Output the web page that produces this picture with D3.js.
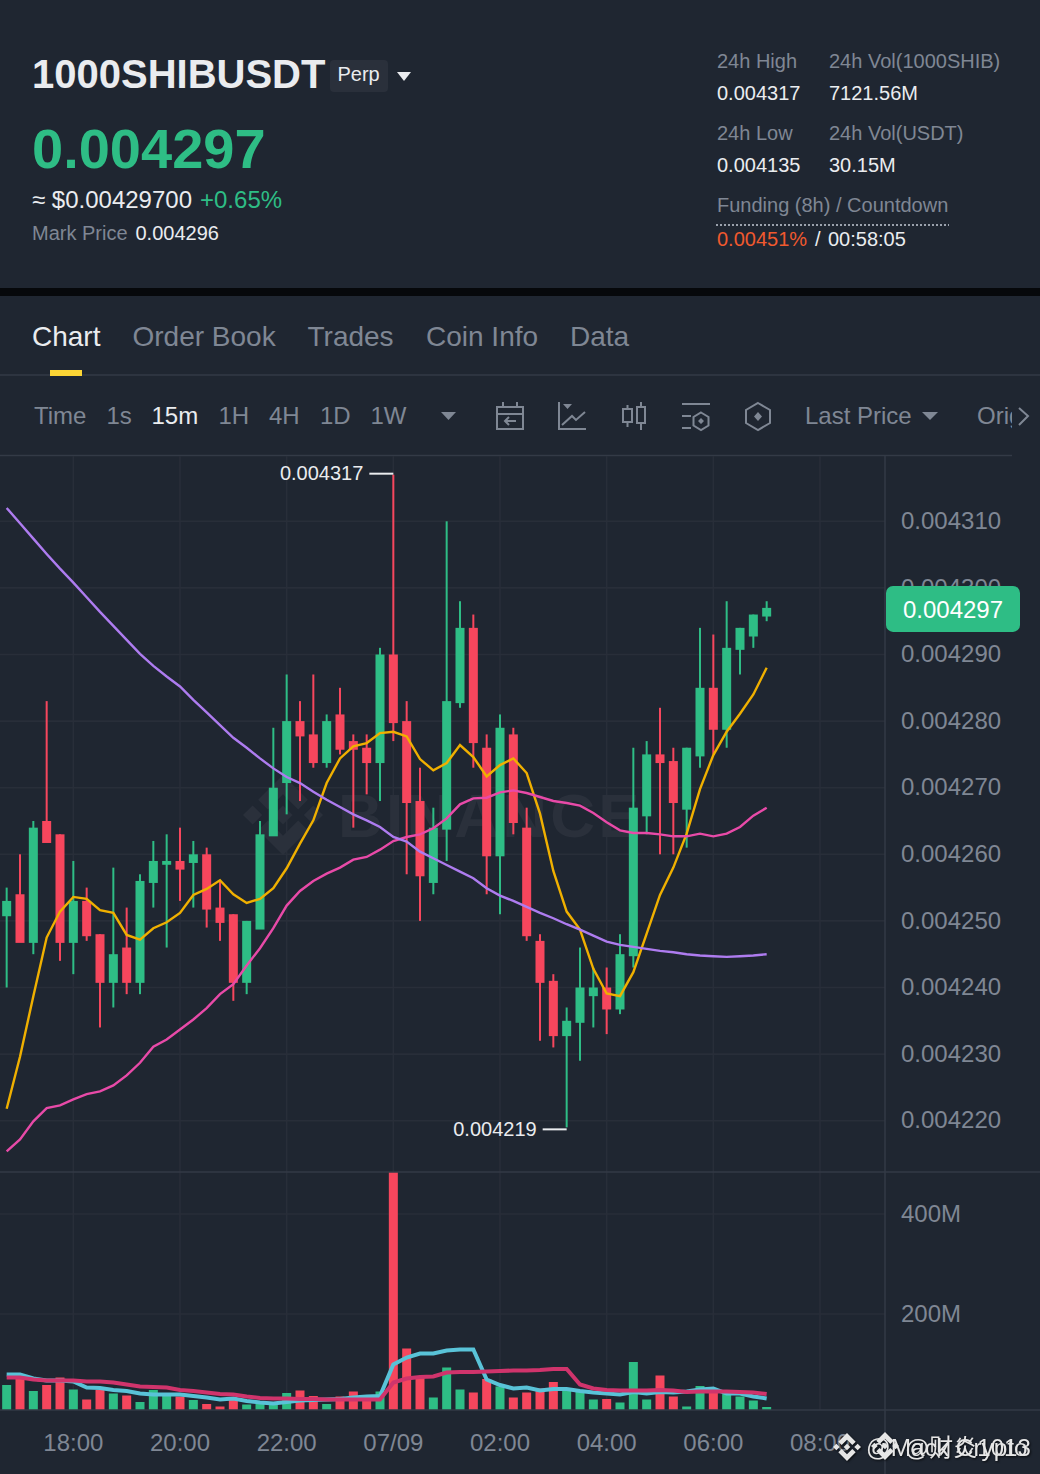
<!DOCTYPE html>
<html>
<head>
<meta charset="utf-8">
<style>
body { margin: 0; background: #1f2631; }
svg { display: block; }
text { font-family: "Liberation Sans", "Noto Sans CJK SC", sans-serif; }
.axis path.domain { display: none; }
.axis line { display: none; }
.axis text { font-size: 24px; fill: #7f8794; font-family: "Liberation Sans", sans-serif; }
.grid line { stroke: #282e39; stroke-width: 1.6; }
.icon { fill: none; stroke: #7f8794; stroke-width: 2; }
.stamp { filter: drop-shadow(1px 1px 1px rgba(0,0,0,.7)); }
</style>
</head>
<body>
<svg width="1040" height="1474"></svg>
<script src="https://d3js.org/d3.v7.min.js"></script>
<script>
// prices are in units of 0.000001, volumes in millions
var opens = [4251,4254,4247,4265,4263,4247,4253,4248,4241,4246,4241,4256,4259,4259,4259,4260,4252,4251,4241,4249,4263,4271,4280,4278,4274,4281,4277,4276,4274,4290,4280,4268,4256,4264,4283,4294,4276,4260,4278,4264,4247,4241,4233,4235,4239,4240,4237,4245,4266,4275,4274,4267,4275,4285,4279,4291,4293,4296];
var closes = [4253,4247,4264,4262,4247,4253,4248,4241,4245,4241,4256,4259,4259,4258,4260,4252,4250,4241,4250,4263,4270,4280,4278,4274,4280,4276,4276,4274,4290,4280,4268,4257,4264,4283,4294,4277,4260,4279,4265,4248,4241,4233,4235,4240,4240,4237,4245,4267,4275,4274,4268,4276,4285,4279,4291,4294,4296,4297];
var highs = [4255,4260,4265,4283,4263,4259,4255,4248,4258,4252,4257,4262,4263,4264,4262,4261,4256,4251,4250,4265,4279,4287,4283,4287,4281,4285,4278,4278,4291,4317,4283,4273,4267,4310,4298,4296,4278,4281,4279,4267,4248,4242,4237,4246,4243,4243,4248,4276,4277,4282,4276,4276,4294,4293,4298,4294,4296,4298];
var lows = [4240,4247,4245,4262,4244,4242,4247,4234,4237,4239,4239,4252,4246,4253,4252,4249,4247,4238,4239,4249,4263,4266,4268,4273,4273,4275,4264,4269,4268,4277,4257,4250,4254,4259,4282,4273,4254,4251,4263,4247,4232,4231,4219,4229,4234,4233,4236,4243,4263,4260,4260,4261,4273,4275,4276,4287,4291,4295];
var ma7 = [4221.8,4229.6,4238.7,4247.5,4251.4,4253.6,4253.3,4251.6,4251.2,4247.9,4247.2,4248.9,4249.8,4251.2,4253.9,4254.8,4256.1,4254,4252.7,4253.3,4254.9,4257.9,4261.6,4265.1,4270.7,4274.4,4276.2,4276.7,4278.2,4278.4,4277.7,4274.3,4272.6,4273.7,4276.4,4274.6,4271.7,4273.4,4274.4,4272.2,4266.1,4257.5,4251.4,4248.7,4242.8,4239.1,4238.7,4242.3,4248.1,4253.9,4258,4263.1,4269.8,4274.9,4278.4,4281.1,4284,4288];
var ma25 = [4215.4,4217.2,4219.9,4221.9,4222.3,4223.2,4224,4224.4,4225.3,4226.8,4228.7,4231.1,4232.2,4233.7,4235.2,4236.9,4239,4240.5,4243.3,4245.9,4248.9,4252.3,4254.5,4256,4257.1,4258,4259.2,4259.6,4260.7,4262,4262.6,4263,4263.9,4265.4,4267.5,4268.4,4268.5,4269.3,4269.6,4269.2,4268.6,4268,4267.7,4267.3,4266.2,4264.8,4263.6,4263.2,4263.2,4263,4262.7,4262.7,4263.1,4262.7,4263.1,4264.1,4265.8,4267];
var ma99 = [4312,4309.7,4307.4,4305.1,4302.9,4300.8,4298.6,4296.4,4294.3,4292.2,4290.1,4288.3,4286.7,4285.2,4283.2,4281.3,4279.4,4277.5,4276,4274.4,4272.9,4271.6,4270.7,4269.4,4268.2,4267.1,4266,4265.1,4264.1,4262.6,4261.9,4260.4,4259.4,4258.4,4257.4,4256.4,4254.9,4253.8,4253,4252.1,4251.2,4250.4,4249.5,4248.7,4247.8,4246.9,4246.4,4246.1,4245.8,4245.5,4245.3,4245,4244.8,4244.7,4244.6,4244.7,4244.8,4245];
var vols = [58,71,46,58,73,49,29,48,41,37,24,48,37,35,28,20,15,28,19,21,21,42,47,36,20,35,45,38,45,484,131,75,33,93,49,43,70,55,33,43,51,64,48,45,29,30,23,104,29,77,35,15,56,45,41,35,27,14];
var volMa5 = [79,79,71,67,67,65,53,52,48,46,41,39,39,39,36,33,29,31,26,23,21,24,27,28,29,30,33,35,36,99,113,121,121,127,129,129,69,58,51,53,47,50,50,46,43,41,39,44,41,44,43,45,49,51,41,41,35,31];
var volMa10 = [73,73,69,67,67,67,65,65,63,59,55,54,53,48,46,43,40,39,35,32,31,31,30,30,29,29,29,29,29,63,71,74,75,83,84,84,85,86,87,87,88,90,90,59,51,48,47,47,47,48,47,44,45,45,45,44,43,40];

var priceTicks = [4310,4300,4290,4280,4270,4260,4250,4240,4230,4220];
var volTicks = [400,200];
var timeIdx = [5,13,21,29,37,45,53,61];
var timeLabels = ["18:00","20:00","22:00","07/09","02:00","04:00","06:00","08:00"];
var lastPrice = 4297;
var baseVol = 8;

var tabs = ["Chart","Order Book","Trades","Coin Info","Data"];
var tabX = [32,132.5,307.5,426,570];
var intervals = ["Time","1s","15m","1H","4H","1D","1W"];
var intervalX = [34,106.5,151.5,218.5,269,320,370.5];

var svg = d3.select("svg"),
  green = "#2ebd85",
  red = "#f6465d",
  bg = "#1f2631",
  white = "#eaecef",
  grey = "#7f8794",
  rule = "#333a46",
  axisX = 885;

var x = d3.scaleLinear().domain([0, 57]).range([20 / 3, 2300 / 3]);
var y = d3.scaleLinear().domain([4310, 4220]).range([521.3, 1120.7]);
var vy = d3.scaleLinear().domain([200, 400]).range([1314, 1214]);

var fmtPrice = function(d) { return (d / 1e6).toFixed(6); };
var idx = d3.range(opens.length);

svg.append("rect").attr("width", 1040).attr("height", 1474).attr("fill", bg);

function label(txt, tx, ty, size, fill, weight) {
  return svg.append("text").attr("x", tx).attr("y", ty)
    .attr("font-size", size).attr("fill", fill)
    .attr("font-weight", weight || "normal").text(txt);
}

// header
label("1000SHIBUSDT", 32, 88, 40, white, "bold");
svg.append("rect").attr("x", 330).attr("y", 60).attr("width", 58).attr("height", 32).attr("rx", 4).attr("fill", "#2a303b");
label("Perp", 337.5, 80.5, 20, white);
svg.append("path").attr("d", "M397,72H411L404,81Z").attr("fill", white);
label("0.004297", 32, 168, 56, green, "bold");
label("≈ $0.00429700", 32, 208, 24, white);
label("+0.65%", 200, 208, 24, green);
label("Mark Price", 32, 240, 20, grey);
label("0.004296", 135.5, 240, 20, white);

label("24h High", 717, 68, 20, grey);
label("24h Vol(1000SHIB)", 829, 68, 20, grey);
label("0.004317", 717, 100, 20, white);
label("7121.56M", 829, 100, 20, white);
label("24h Low", 717, 140, 20, grey);
label("24h Vol(USDT)", 829, 140, 20, grey);
label("0.004135", 717, 172, 20, white);
label("30.15M", 829, 172, 20, white);
label("Funding (8h) / Countdown", 717, 212, 20, grey);
svg.append("line").attr("x1", 716).attr("x2", 949).attr("y1", 225).attr("y2", 225)
  .attr("stroke", "#9aa1ac").attr("stroke-width", 2).attr("stroke-dasharray", "2 2");
label("0.00451%", 717, 246, 20, "#f0592e");
label("/", 815, 246, 20, white);
label("00:58:05", 828, 246, 20, white);

svg.append("rect").attr("y", 288).attr("width", 1040).attr("height", 8).attr("fill", "#06080b");

// tabs
svg.selectAll(".tab").data(tabs).enter().append("text")
  .attr("class", "tab")
  .attr("x", function(d, i) { return tabX[i]; })
  .attr("y", 346)
  .attr("font-size", 28)
  .attr("fill", function(d, i) { return i == 0 ? white : grey; })
  .text(function(d) { return d; });
svg.append("line").attr("x1", 0).attr("x2", 1040).attr("y1", 375).attr("y2", 375).attr("stroke", rule).attr("stroke-width", 1.5);
svg.append("rect").attr("x", 50).attr("y", 370).attr("width", 32).attr("height", 6).attr("fill", "#fcd535");

// toolbar
svg.selectAll(".interval").data(intervals).enter().append("text")
  .attr("class", "interval")
  .attr("x", function(d, i) { return intervalX[i]; })
  .attr("y", 424)
  .attr("font-size", 24)
  .attr("fill", function(d) { return d == "15m" ? white : grey; })
  .text(function(d) { return d; });
svg.append("path").attr("d", "M441,412H456L448.5,420Z").attr("fill", grey);
label("Last Price", 805, 424, 24, grey);
svg.append("path").attr("d", "M922,412H938L930,420Z").attr("fill", grey);
svg.append("clipPath").attr("id", "orig").append("rect").attr("x", 970).attr("y", 395).attr("width", 42).attr("height", 45);
label("Original", 977, 424, 24, grey).attr("clip-path", "url(#orig)");
svg.append("path").attr("class", "icon").attr("d", "M1019,408L1028,416L1019,425").attr("stroke-width", 2.4);

var icons = [
  // calendar
  "M497,407H523V429H497ZM497,414H523M503,402V407M517,402V407M516,421H505M509,417L505,421L509,425",
  // line chart
  "M559,402V429H586M562,425L572,416L576,420L585,412",
  // candles
  "M623,409H632V422H623ZM627.5,405V409M627.5,422V427M637,407H645V423H637ZM641,402V407M641,423V430",
  // list and hexagon
  "M682,404H710M682,416H691M682,428H691M701,412.5L708.5,417V425.5L701,430L693.5,425.5V417Z",
  // hexagon
  "M758,403L770,410V423L758,430L746,423V410Z"
];
svg.selectAll(".icon.tool").data(icons).enter().append("path")
  .attr("class", "icon tool")
  .attr("d", function(d) { return d; });
svg.append("path").attr("d", "M563,404H572L567.5,409ZM701,418L704,421L701,424L698,421ZM758,412L762,416.5L758,421L754,416.5Z").attr("fill", grey);

svg.append("line").attr("x1", 0).attr("x2", 1012).attr("y1", 455.5).attr("y2", 455.5).attr("stroke", rule).attr("stroke-width", 1.5);

// grid
var grid = svg.append("g").attr("class", "grid");
grid.selectAll(".v").data(timeIdx).enter().append("line")
  .attr("x1", function(d) { return x(d); })
  .attr("x2", function(d) { return x(d); })
  .attr("y1", 456).attr("y2", 1410);
grid.selectAll(".h").data(priceTicks).enter().append("line")
  .attr("x1", 0).attr("x2", axisX)
  .attr("y1", function(d) { return y(d); })
  .attr("y2", function(d) { return y(d); });
grid.selectAll(".vh").data(volTicks).enter().append("line")
  .attr("x1", 0).attr("x2", axisX)
  .attr("y1", function(d) { return vy(d); })
  .attr("y2", function(d) { return vy(d); });

// chart watermark
function logo(parent, cx, cy, s, fill) {
  var k = function(p) { return p.map(function(q) { return (cx + q[0] * s) + "," + (cy + q[1] * s); }).join(" "); };
  var g = parent.append("g").attr("fill", fill);
  var r = 0.24;
  [0, -0.76, 0.76].forEach(function(o) {
    g.append("polygon").attr("points", k([[o - r, 0], [o, -r], [o + r, 0], [o, r]]));
  });
  [1, -1].forEach(function(f) {
    g.append("polygon").attr("points", k([[0, f], [0.62, f * 0.38], [0.38, f * 0.14], [0, f * 0.52], [-0.38, f * 0.14], [-0.62, f * 0.38]]));
  });
}
logo(svg, 283, 815, 40, "#2a303b");
label("BINANCE", 338, 837, 62, "#2a303b", "bold").attr("letter-spacing", 3.2);

// candles
var candle = svg.append("g").selectAll("g").data(idx).enter().append("g")
  .attr("fill", function(i) { return closes[i] >= opens[i] ? green : red; });
candle.append("rect")
  .attr("x", function(i) { return x(i) - 1; })
  .attr("width", 2)
  .attr("y", function(i) { return y(highs[i]); })
  .attr("height", function(i) { return y(lows[i]) - y(highs[i]); });
candle.append("rect")
  .attr("x", function(i) { return x(i) - 4.5; })
  .attr("width", 9)
  .attr("y", function(i) { return y(Math.max(opens[i], closes[i])); })
  .attr("height", function(i) { return Math.max(3.8, Math.abs(y(opens[i]) - y(closes[i])) + 2); });

var priceLine = function(vals) {
  return d3.line().x(function(d, i) { return x(i); }).y(function(d) { return y(d); })(vals);
};
var volLine = function(vals) {
  return d3.line().x(function(d, i) { return x(i); }).y(function(d) { return vy(d); })(vals);
};
[[ma7, "#f0b000"], [ma25, "#e84aa8"], [ma99, "#ae7cf0"]].forEach(function(m) {
  svg.append("path").attr("d", priceLine(m[0])).attr("fill", "none")
    .attr("stroke", m[1]).attr("stroke-width", 2.4);
});

// high and low marks
var hiI = d3.maxIndex(highs), loI = d3.minIndex(lows);
svg.append("line").attr("x1", x(hiI) - 24).attr("x2", x(hiI)).attr("y1", y(highs[hiI]) - 1).attr("y2", y(highs[hiI]) - 1)
  .attr("stroke", white).attr("stroke-width", 2);
label(fmtPrice(highs[hiI]), x(hiI) - 30, y(highs[hiI]) + 5, 20, white).attr("text-anchor", "end");
svg.append("line").attr("x1", x(loI) - 24).attr("x2", x(loI)).attr("y1", y(lows[loI]) + 2).attr("y2", y(lows[loI]) + 2)
  .attr("stroke", white).attr("stroke-width", 2);
label(fmtPrice(lows[loI]), x(loI) - 30, y(lows[loI]) + 9, 20, white).attr("text-anchor", "end");

// volume
svg.append("g").selectAll("rect").data(idx).enter().append("rect")
  .attr("x", function(i) { return x(i) - 4.5; })
  .attr("width", 9)
  .attr("y", function(i) { return vy(vols[i]); })
  .attr("height", function(i) { return vy(baseVol) - vy(vols[i]); })
  .attr("fill", function(i) { return closes[i] >= opens[i] ? green : red; });
svg.append("path").attr("d", volLine(volMa5)).attr("fill", "none").attr("stroke", "#59c3d8").attr("stroke-width", 4);
svg.append("path").attr("d", volLine(volMa10)).attr("fill", "none").attr("stroke", "#d0346c").attr("stroke-width", 4);

// pane rules
svg.append("line").attr("x1", 0).attr("x2", 1040).attr("y1", 1172).attr("y2", 1172).attr("stroke", rule).attr("stroke-width", 1.5);
svg.append("line").attr("x1", 0).attr("x2", 1040).attr("y1", 1410).attr("y2", 1410).attr("stroke", rule).attr("stroke-width", 1.5);
svg.append("line").attr("x1", axisX).attr("x2", axisX).attr("y1", 456).attr("y2", 1474).attr("stroke", rule).attr("stroke-width", 1.5);

// axes
svg.append("g").attr("class", "axis").attr("transform", "translate(" + axisX + ",-0.5)")
  .call(d3.axisRight(y).tickValues(priceTicks).tickFormat(fmtPrice).tickSize(0).tickPadding(16));
svg.append("g").attr("class", "axis").attr("transform", "translate(" + axisX + ",-0.5)")
  .call(d3.axisRight(vy).tickValues(volTicks).tickFormat(function(d) { return d + "M"; }).tickSize(0).tickPadding(16));
svg.append("g").attr("class", "axis").attr("transform", "translate(-0.5,1410)")
  .call(d3.axisBottom(x).tickValues(timeIdx).tickFormat(function(d, i) { return timeLabels[i]; }).tickSize(0).tickPadding(24));

// last price tag
svg.append("rect").attr("x", 886).attr("y", y(lastPrice) - 22).attr("width", 134).attr("height", 46).attr("rx", 7).attr("fill", green);
label(fmtPrice(lastPrice), 953, y(lastPrice) + 10, 24, "#fff").attr("text-anchor", "middle");

// stamps left on the screenshot
var stamp = svg.append("g").attr("class", "stamp");
logo(stamp, 847, 1447, 14, "#e6e6e6");
logo(stamp, 885, 1446, 14, "#e6e6e6");
stamp.append("text").attr("x", 866).attr("y", 1456).attr("font-size", 24.4).attr("fill", "#e6e6e6").text("@Mack Crypto");
stamp.append("text").attr("x", 905).attr("y", 1456).attr("font-size", 24).attr("fill", "#e6e6e6").text("@财炎1013");
</script>
</body>
</html>
